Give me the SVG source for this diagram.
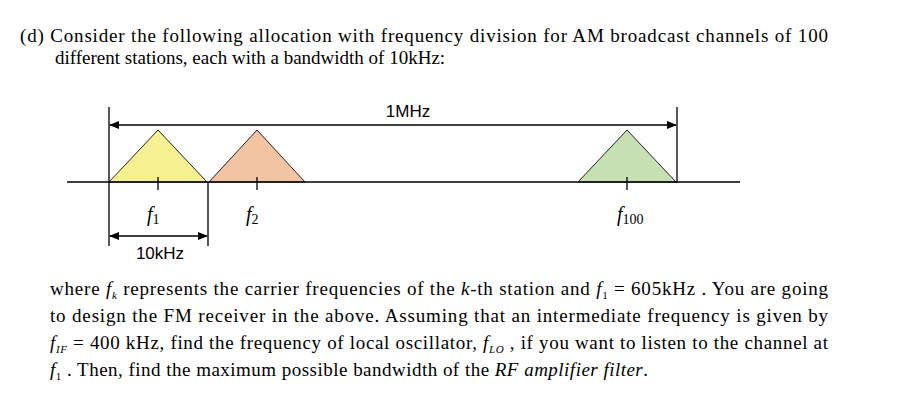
<svg xmlns="http://www.w3.org/2000/svg" width="920" height="407" viewBox="0 0 920 407">
<style>
.t{font-family:"Liberation Serif",serif;font-size:19px;fill:#000}
.s{font-family:"Liberation Sans",sans-serif;font-size:17px;fill:#000}
.fi{font-family:"Liberation Serif",serif;font-style:italic;font-size:20px}
.ln{stroke:#000;stroke-width:1.3;fill:none}
.tri{stroke:#222;stroke-width:1}
</style>
<defs><marker id="a" markerWidth="10" markerHeight="8" refX="9" refY="4" orient="auto-start-reverse" markerUnits="userSpaceOnUse"><path d="M0,0 L10,4 L0,8 Z" fill="#000"/></marker></defs>
<rect width="920" height="407" fill="#fff"/>
<text class="t" x="20" y="42" textLength="808" lengthAdjust="spacing">(d) Consider the following allocation with frequency division for AM broadcast channels of 100</text>
<text class="t" x="55" y="64">different stations, each with a bandwidth of 10kHz:</text>
<g id="tri1"><polygon class="tri" points="109,182 158,130 207,182" fill="#f5f090"/></g>
<g id="tri2"><polygon class="tri" points="209,182 257,130 305,182" fill="#f3c4a4"/></g>
<g id="tri100"><polygon class="tri" points="578,182 627,130 676,182" fill="#c6e0b4"/></g>
<g id="connectors">
<line class="ln" x1="67" y1="182" x2="740" y2="182"/>
<line class="ln" x1="109" y1="107" x2="109" y2="246"/>
<line class="ln" x1="677" y1="107" x2="677" y2="183"/>
<line class="ln" x1="208" y1="182" x2="208" y2="246"/>
<line class="ln" x1="110" y1="125" x2="676" y2="125" marker-start="url(#a)" marker-end="url(#a)"/>
<line class="ln" x1="110" y1="236" x2="207" y2="236" marker-start="url(#a)" marker-end="url(#a)"/>
<line class="ln" x1="158" y1="177" x2="158" y2="190"/>
<line class="ln" x1="257" y1="177" x2="257" y2="190"/>
<line class="ln" x1="627" y1="177" x2="627" y2="190"/>
</g>
<text class="s" x="408" y="117" text-anchor="middle">1MHz</text>
<text class="s" x="160" y="259" text-anchor="middle">10kHz</text>
<text class="fi" x="147" y="221">f<tspan font-style="normal" font-size="14" dy="3">1</tspan></text>
<text class="fi" x="246" y="221">f<tspan font-style="normal" font-size="14" dy="3">2</tspan></text>
<text class="fi" x="617" y="221">f<tspan font-style="normal" font-size="14" dy="3">100</tspan></text>
<text class="t" x="50" y="295" textLength="778" lengthAdjust="spacing">where <tspan font-style="italic">f</tspan><tspan font-style="italic" font-size="11" dy="4">k</tspan><tspan dy="-4"> represents the carrier frequencies of the </tspan><tspan font-style="italic">k</tspan>-th station and <tspan font-style="italic">f</tspan><tspan font-size="11" dy="4">1</tspan><tspan dy="-4"> = 605kHz . You are going</tspan></text>
<text class="t" x="50" y="322" textLength="778" lengthAdjust="spacing">to design the FM receiver in the above. Assuming that an intermediate frequency is given by</text>
<text class="t" x="50" y="349" textLength="778" lengthAdjust="spacing"><tspan font-style="italic">f</tspan><tspan font-style="italic" font-size="11" dy="4">IF</tspan><tspan dy="-4"> = 400 kHz, find the frequency of local oscillator, </tspan><tspan font-style="italic">f</tspan><tspan font-style="italic" font-size="11" dy="4">LO</tspan><tspan dy="-4"> , if you want to listen to the channel at</tspan></text>
<text class="t" x="50" y="376" textLength="598" lengthAdjust="spacing"><tspan font-style="italic">f</tspan><tspan font-size="11" dy="4">1</tspan><tspan dy="-4"> . Then, find the maximum possible bandwidth of the </tspan><tspan font-style="italic">RF amplifier filter</tspan>.</text>
</svg>
